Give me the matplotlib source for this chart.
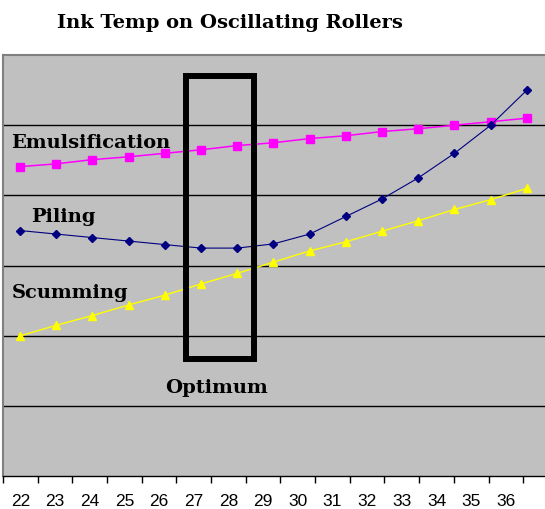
import matplotlib
matplotlib.use("Agg")
import matplotlib.pyplot as plt
from matplotlib.patches import Rectangle

# ---- data ----
temps = [22, 23, 24, 25, 26, 27, 28, 29, 30, 31, 32, 33, 34, 35, 36]
emulsification = [4.41, 4.45, 4.51, 4.55, 4.60, 4.65, 4.71, 4.75, 4.81, 4.85, 4.91, 4.95, 5.00, 5.05, 5.10]
piling = [3.50, 3.45, 3.40, 3.35, 3.30, 3.25, 3.25, 3.31, 3.45, 3.70, 3.95, 4.25, 4.60, 5.00, 5.50]
scumming = [2.00, 2.15, 2.29, 2.44, 2.58, 2.74, 2.89, 3.05, 3.21, 3.34, 3.49, 3.64, 3.80, 3.94, 4.10]
tick_labels = [str(t) for t in temps]

W, H = 545, 510
fig = plt.figure(figsize=(W / 100, H / 100), dpi=100)
fig.patch.set_facecolor("white")

left_px, right_px, top_px, bot_px = 3, 545, 56, 477.3
pos = [left_px / W, 1 - bot_px / H, (right_px - left_px) / W, (bot_px - top_px) / H]

ax = fig.add_axes(pos)
ax.set_facecolor("#C0C0C0")
x = list(range(len(temps)))
ax.plot(x, emulsification, color="#FF00FF", lw=1.1, marker="s", ms=5.2, zorder=3)
ax.plot(x, piling, color="#000080", lw=0.8, marker="D", ms=4.2, zorder=3)
ax.plot(x, scumming, color="#FFFF00", lw=1.0, marker="^", ms=6, zorder=3)
ax.set_xlim(-0.47, 14.5)
ax.set_ylim(0, 6)
ax.set_yticks([1, 2, 3, 4, 5])
ax.yaxis.grid(True, color="black", lw=1.0)
ax.set_axisbelow(True)
ax.tick_params(axis="y", length=0, labelleft=False)
ax.tick_params(axis="x", length=0, labelbottom=False)
for s in ["top", "left"]:
    ax.spines[s].set_color("#808080")
    ax.spines[s].set_linewidth(1.5)
ax.spines["right"].set_visible(False)
ax.spines["bottom"].set_color("black")
ax.spines["bottom"].set_linewidth(1.0)

# optimum box
ax.add_patch(Rectangle((4.59, 1.67), 6.46 - 4.59, 5.70 - 1.67, fill=False,
                       edgecolor="black", lw=4.3, zorder=4, clip_on=False))

# category axis overlay
axc = fig.add_axes(pos, frameon=False)
axc.patch.set_alpha(0)
axc.set_xlim(-0.5, -0.5 + (right_px - 2.7) / 34.7)
axc.set_ylim(0, 1)
axc.set_xticks(x)
axc.set_xticklabels(tick_labels, fontfamily="Liberation Sans", fontsize=12.5)
axc.set_xticks([i - 0.5 for i in range(len(temps) + 1)], minor=True)
axc.tick_params(axis="x", which="major", length=0, pad=12)
axc.tick_params(axis="x", which="minor", length=5, width=1, color="black")
axc.set_yticks([])

serif = dict(fontfamily="DejaVu Serif", fontweight="bold", color="black")
fs = 14.0
fig.text(229.5 / W, 1 - 28.3 / H, "Ink Temp on Oscillating Rollers", ha="center", va="baseline", fontsize=fs, **serif)
fig.text(11 / W, 1 - 148.3 / H, "Emulsification", ha="left", va="baseline", fontsize=fs, **serif)
fig.text(30.7 / W, 1 - 222.5 / H, "Piling", ha="left", va="baseline", fontsize=fs, **serif)
fig.text(11.7 / W, 1 - 298 / H, "Scumming", ha="left", va="baseline", fontsize=fs, **serif)
fig.text(217 / W, 1 - 393 / H, "Optimum", ha="center", va="baseline", fontsize=fs, **serif)

fig.savefig("out.png", dpi=100, facecolor="white")
